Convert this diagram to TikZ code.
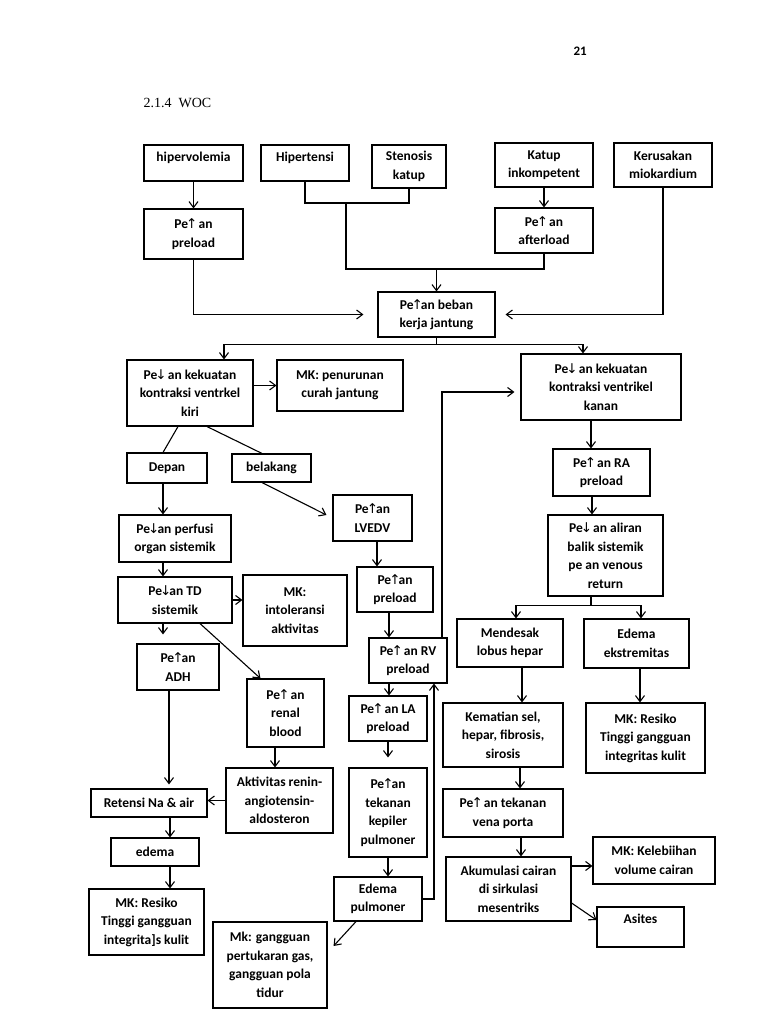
\documentclass[tikz,border=0pt]{standalone}
\usepackage{fontspec}
\setmainfont{Carlito}
\newfontfamily\titlefont{Liberation Serif}
\newfontfamily\arrowfont{DejaVu Sans}
\usetikzlibrary{arrows.meta, calc, positioning}
\newcommand{\naik}{\kern-2pt{\arrowfont\mdseries\fontsize{13.5}{13.5}\selectfont ↑}\kern-2pt}
\newcommand{\turun}{\kern-2pt{\arrowfont\mdseries\fontsize{13.5}{13.5}\selectfont ↓}\kern-2pt}

\begin{document}
\begin{tikzpicture}[x=1pt,y=-1pt,align=center,line width=1.1pt,
  font=\bfseries\fontsize{13.5}{18.5}\selectfont,
  >={Straight Barb[length=6pt,width=9pt]}]
\tikzstyle{box}=[draw=black,rectangle,inner sep=2pt]
\tikzstyle{link}=[->]

\path[use as bounding box, fill=white] (0,0) rectangle (768,1024);

\node[anchor=base west, inner sep=0pt, font=\bfseries\fontsize{13}{15}\selectfont] (halaman) at (573,56) {21};
\node[anchor=base west, inner sep=0pt, font=\titlefont\fontsize{14}{16}\selectfont] (judul) at (143,108) {2.1.4\ \ WOC};

% penyebab
\node[box, minimum width=99pt, minimum height=36pt, text depth=12pt] (hiper) at (193.5,163) {hipervolemia};
\node[box, minimum width=88pt, minimum height=36pt, text depth=12pt] (hipert) at (305,163) {Hipertensi};
\node[box, minimum width=74pt, minimum height=43pt] (stenosis) at (409,166.5) {Stenosis\\katup};
\node[box, minimum width=98pt, minimum height=44pt] (katup) at (544,165) {Katup\\inkompetent};
\node[box, minimum width=98pt, minimum height=44pt] (kerusakan) at (663,165) {Kerusakan\\miokardium};
\node[box, minimum width=99pt, minimum height=50pt] (preloadA) at (193.5,234) {Pe\naik\ an\\preload};
\node[box, minimum width=98pt, minimum height=45pt] (afterload) at (544,230.5) {Pe\naik\ an\\afterload};
\node[box, minimum width=117pt, minimum height=45pt] (beban) at (436.5,314.5) {Pe\naik an beban\\kerja jantung};

% ventrikel kiri
\node[box, minimum width=126pt, minimum height=66pt] (kiri) at (190,393) {Pe\turun\ an kekuatan\\kontraksi ventrkel\\kiri};
\node[box, minimum width=126pt, minimum height=51pt] (curah) at (340,385.5) {MK: penurunan\\curah jantung};
\node[box, minimum width=80pt, minimum height=30pt] (depan) at (167,468) {Depan};
\node[box, minimum width=79pt, minimum height=28pt] (belakang) at (271.5,468) {belakang};
\node[box, minimum width=79pt, minimum height=46pt] (lvedv) at (372.5,518) {Pe\naik an\\LVEDV};
\node[box, minimum width=112pt, minimum height=47pt] (perfusi) at (175,538.5) {Pe\turun an perfusi\\organ sistemik};
\node[box, minimum width=114pt, minimum height=46pt] (td) at (175,600) {Pe\turun an TD\\sistemik};
\node[box, minimum width=104pt, minimum height=71pt] (intol) at (295,610.5) {MK:\\intoleransi\\aktivitas};
\node[box, minimum width=76pt, minimum height=45pt] (preloadB) at (395,589.5) {Pe\naik an\\preload};
\node[box, minimum width=78pt, minimum height=45pt] (rv) at (408,660.5) {Pe\naik\ an RV\\preload};
\node[box, minimum width=82pt, minimum height=46pt] (adh) at (178,667) {Pe\naik an\\ADH};
\node[box, minimum width=77pt, minimum height=68pt] (renal) at (285.5,713) {Pe\naik\ an\\renal\\blood};
\node[box, minimum width=78pt, minimum height=45pt] (la) at (388,718.5) {Pe\naik\ an LA\\preload};
\node[box, minimum width=107pt, minimum height=65pt] (aktivitas) at (279.5,800.5) {Aktivitas renin-\\angiotensin-\\aldosteron};
\node[box, minimum width=116pt, minimum height=28pt] (retensi) at (149,803) {Retensi Na \& air};
\node[box, minimum width=78pt, minimum height=89pt] (kepiler) at (388,812.5) {Pe\naik an\\tekanan\\kepiler\\pulmoner};
\node[box, minimum width=88pt, minimum height=28pt] (edema) at (155,852) {edema};
\node[box, minimum width=88pt, minimum height=44pt] (edpulm) at (378,899) {Edema\\pulmoner};
\node[box, minimum width=115pt, minimum height=66pt] (kulitL) at (146.5,922) {MK: Resiko\\Tinggi gangguan\\integrita]s kulit};
\node[box, minimum width=114pt, minimum height=86pt] (gangguan) at (270,965) {Mk: gangguan\\pertukaran gas,\\gangguan pola\\tidur};

% ventrikel kanan
\node[box, minimum width=160pt, minimum height=66pt] (kanan) at (601,387) {Pe\turun\ an kekuatan\\kontraksi ventrikel\\kanan};
\node[box, minimum width=97pt, minimum height=47pt] (ra) at (601.5,472.5) {Pe\naik\ an RA\\preload};
\node[box, minimum width=115pt, minimum height=81pt] (aliran) at (605.5,555.5) {Pe\turun\ an aliran\\balik sistemik\\pe an venous\\return};
\node[box, minimum width=106pt, minimum height=48pt] (mendesak) at (510,643) {Mendesak\\lobus hepar};
\node[box, minimum width=105pt, minimum height=49pt] (ekstrem) at (636.5,643.5) {Edema\\ekstremitas};
\node[box, minimum width=120pt, minimum height=64pt] (kematian) at (503,735) {Kematian sel,\\hepar, fibrosis,\\sirosis};
\node[box, minimum width=119pt, minimum height=70pt] (kulitR) at (645.5,738) {MK: Resiko\\Tinggi gangguan\\integritas kulit};
\node[box, minimum width=120pt, minimum height=48pt] (porta) at (503,813) {Pe\naik\ an tekanan\\vena porta};
\node[box, minimum width=125pt, minimum height=64pt] (akumulasi) at (508.5,889) {Akumulasi cairan\\di sirkulasi\\mesentriks};
\node[box, minimum width=122pt, minimum height=47pt] (kelebihan) at (654,860.5) {MK: Kelebiihan\\volume cairan};
\node[box, minimum width=87pt, minimum height=40pt, text depth=17pt] (asites) at (640.5,927) {Asites};

% ke beban kerja jantung
\coordinate (jA) at (346,203);
\coordinate (jB) at (346,269);
\draw[link] (hiper) -- (preloadA);
\draw (hipert.south) |- (jA) -| (stenosis.south);
\draw (jA) -- (jB) -| (afterload.south);
\draw[link] (jB -| beban.north) -- (beban.north);
\draw[link] (katup) -- (afterload);
\draw[link, shorten >=10pt] (kerusakan.south) |- (beban.east);
\draw[link, shorten >=14pt] (preloadA.south) |- (beban.west);
\draw[link] (beban.south) -- ++(0,7) -| ([xshift=34pt]kiri.north);
\draw[link] (beban.south) ++(0,7) -| ([xshift=-18pt]kanan.north);

% kiri
\draw[link] (kiri.east |- curah.west) -- (curah.west);
\draw ([xshift=-12pt]kiri.south) -- ([xshift=-4pt]depan.north);
\draw ([xshift=17pt]kiri.south) -- ([xshift=-9.5pt]belakang.north);
\draw[link] ([xshift=-9.5pt]belakang.south) -- ([xshift=-6pt,yshift=3pt]lvedv.west);
\draw[link] ([xshift=-4pt]depan.south) -- ([xshift=-4pt]depan.south |- perfusi.north);
\draw[link] ([xshift=-12pt]perfusi.south) -- ([xshift=-12pt]td.north);
\draw[link] (td.east) -- (td.east -| intol.west);
\draw[link, shorten >=9pt] ([xshift=-12pt]td.south) -- ([xshift=-15pt]adh.north);
\draw[link] ([xshift=25pt]td.south) -- ([xshift=-25pt]renal.north);
\draw[link, shorten >=4pt] ([xshift=-9pt]adh.south) -- ([xshift=20pt]retensi.north);
\draw[link] ([xshift=-10.5pt]renal.south) -- ([xshift=-4.5pt]aktivitas.north);
\draw[link] (aktivitas.west) -- (aktivitas.west -| retensi.east);
\draw[link] ([xshift=21pt]retensi.south) -- ([xshift=15pt]edema.north);
\draw[link] ([xshift=15pt]edema.south) -- ([xshift=23.5pt]kulitL.north);

% paru
\draw[link] ([xshift=4.5pt]lvedv.south) -- ([xshift=-18pt]preloadB.north);
\draw[link] ([xshift=-6pt]preloadB.south) -- ([xshift=-19pt]rv.north);
\draw[link] ([xshift=-19pt]rv.south) -- ([xshift=1pt]la.north);
\draw[link, shorten >=10pt] (la.south) -- (kepiler.north);
\draw[link] (kepiler.south) -- (kepiler.south |- edpulm.north);
\draw[link] ([xshift=-22pt]edpulm.south) -- ([xshift=6pt,yshift=19pt]gangguan.east);
\draw[link] (edpulm.east) -| ([xshift=26pt]rv.south);
\draw[link, shorten >=6pt] ([xshift=34pt]rv.north) |- ([yshift=-5pt]kanan.west);

% kanan
\draw[link] ([xshift=-10pt]kanan.south) -- ([xshift=-10.5pt]ra.north);
\draw[link] ([xshift=-9.5pt]ra.south) -- ([xshift=-13.5pt]aliran.north);
\draw[link] ([xshift=-14.5pt]aliran.south) -- ++(0,9) -| ([xshift=6pt]mendesak.north);
\draw[link] ([xshift=-14.5pt]aliran.south) ++(0,9) -| ([xshift=4.5pt]ekstrem.north);
\draw[link] ([xshift=12pt]mendesak.south) -- ([xshift=19pt]kematian.north);
\draw[link] ([xshift=3.5pt]ekstrem.south) -- ([xshift=-5.5pt]kulitR.north);
\draw[link] ([xshift=17pt]kematian.south) -- ([xshift=17pt]porta.north);
\draw[link] ([xshift=18pt]porta.south) -- ([xshift=12.5pt]akumulasi.north);
\draw[link] ($(akumulasi.east)+(0,-23)$) -- ($(kelebihan.west)+(0,5.5)$);
\draw[link] ($(akumulasi.east)+(0,14)$) -- ($(asites.west)+(0,-7)$);
\end{tikzpicture}
\end{document}
